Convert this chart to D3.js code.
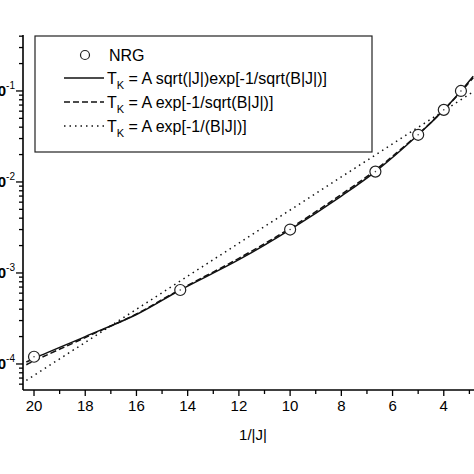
<!DOCTYPE html>
<html><head><meta charset="utf-8">
<script src="https://cdn.jsdelivr.net/npm/d3@7"></script>
<style>body{margin:0;background:#fff}</style></head>
<body><svg id="c" width="474" height="474"></svg>
<script>
const nrgX = [20, 14.29, 10, 6.67, 5, 4, 3.33];
const nrgY = [1.2e-4, 6.5e-4, 3.0e-3, 1.3e-2, 3.3e-2, 6.2e-2, 0.1];
const solidX = [20.3, 20, 18, 16, 14.29, 12, 10, 8, 6.67, 5, 4, 3.33, 2.85];
const solidY = [1.05e-4, 1.15e-4, 2.0e-4, 3.5e-4, 6.5e-4, 1.4e-3, 3.0e-3, 7.0e-3, 1.3e-2, 3.3e-2, 6.2e-2, 0.1, 0.145];
const dashX = [20.3, 20, 18, 16, 14.29, 12, 10, 8, 6.67, 5, 4, 3.33, 2.85];
const dashY = [0.98e-4, 1.08e-4, 1.95e-4, 3.55e-4, 6.6e-4, 1.45e-3, 3.1e-3, 7.3e-3, 1.35e-2, 3.35e-2, 6.2e-2, 0.098, 0.14];
const dotX = [20.3, 2.85];
const dotY = [6.6e-5, 0.098];
const xTicks = [20, 18, 16, 14, 12, 10, 8, 6, 4];
const yTicks = [1e-4, 1e-3, 1e-2, 1e-1];
const yExp = ["-4", "-3", "-2", "-1"];
const legendLabels = ["NRG", "A sqrt(|J|)exp[-1/sqrt(B|J|)]", "A exp[-1/sqrt(B|J|)]", "A exp[-1/(B|J|)]"];

const svg = d3.select("#c");
const L = 23, R = 474, T = 35, B = 390;
const x = d3.scaleLinear().domain([20.43, 2.82]).range([L, R]);
const y = d3.scaleLog().domain([10 ** -4.286, 10 ** -0.385]).range([B, T]);
const font = "Arial, 'Liberation Sans', sans-serif";

svg.append("clipPath").attr("id", "cp").append("rect").attr("x", L).attr("y", T).attr("width", R - L).attr("height", B - T);
const g = svg.append("g").attr("clip-path", "url(#cp)");
function line(xs, ys, dash) {
  const d = d3.line().x(i => x(xs[i])).y(i => y(ys[i])).curve(d3.curveCatmullRom)(d3.range(xs.length).sort((a,b)=>xs[b]-xs[a]));
  g.append("path").attr("d", d).attr("fill", "none").attr("stroke", "#111").attr("stroke-width", 1.5).attr("stroke-dasharray", dash);
}
line(dotX, dotY, "1.5,4");
line(dashX, dashY, "6,3");
line(solidX, solidY, null);
g.selectAll("circle.n").data(nrgX).join("circle").attr("cx", d => x(d)).attr("cy", (d, i) => y(nrgY[i])).attr("r", 5.5).attr("fill", "#fff").attr("stroke", "#222").attr("stroke-width", 1.2);
g.selectAll("circle.c").data(nrgX).join("circle").attr("cx", d => x(d)).attr("cy", (d, i) => y(nrgY[i])).attr("r", 0.8).attr("fill", "#444");

svg.append("line").attr("x1", L).attr("x2", L).attr("y1", T).attr("y2", B).attr("stroke", "#000").attr("stroke-width", 1.6);
svg.append("line").attr("x1", L).attr("x2", R).attr("y1", B).attr("y2", B).attr("stroke", "#000").attr("stroke-width", 1.6);
d3.range(3, 21).forEach(v => {
  if (x(v) < L) return;
  const major = v % 2 === 0;
  svg.append("line").attr("x1", x(v)).attr("x2", x(v)).attr("y1", B).attr("y2", B + (major ? 6 : 4)).attr("stroke", "#000").attr("stroke-width", 1.3);
});
svg.selectAll("text.xt").data(xTicks).join("text").attr("x", d => x(d)).attr("y", B + 21).attr("text-anchor", "middle").attr("font-family", font).attr("font-size", 15).text(d => d);
svg.append("text").attr("x", 253).attr("y", 440).attr("text-anchor", "middle").attr("font-family", font).attr("font-size", 15).text("1/|J|");
[-5, -4, -3, -2, -1].forEach(e => {
  for (let m = 1; m <= 9; m++) {
    const v = m * 10 ** e; const py = y(v);
    if (py < T || py > B) continue;
    svg.append("line").attr("x1", L).attr("x2", L - (m === 1 ? 7 : 4)).attr("y1", py).attr("y2", py).attr("stroke", "#000").attr("stroke-width", 1.3);
  }
});
yTicks.forEach((v, i) => {
  const t = svg.append("text").attr("x", 15).attr("y", y(v) + 5).attr("text-anchor", "end").attr("font-family", font).attr("font-size", 15).attr("font-weight", "bold");
  t.append("tspan").text("10");
  t.append("tspan").attr("font-size", 10).attr("dy", -7).attr("font-weight", "normal").text(yExp[i]);
});

svg.append("rect").attr("x", 35).attr("y", 36).attr("width", 337).attr("height", 116).attr("fill", "#fff").attr("stroke", "#222").attr("stroke-width", 1.2);
const ly = [55, 78, 102, 126];
svg.append("circle").attr("cx", 85).attr("cy", ly[0]).attr("r", 4.5).attr("fill", "#fff").attr("stroke", "#222").attr("stroke-width", 1.2);
[null, "6,3", "1.5,4"].forEach((d, i) => {
  svg.append("line").attr("x1", 64).attr("x2", 104).attr("y1", ly[i + 1]).attr("y2", ly[i + 1]).attr("stroke", "#111").attr("stroke-width", 1.5).attr("stroke-dasharray", d);
});
legendLabels.forEach((s, i) => {
  const t = svg.append("text").attr("x", i === 0 ? 109 : 107).attr("y", ly[i] + 6).attr("font-family", font).attr("font-size", 16);
  if (i === 0) { t.text(s); return; }
  t.append("tspan").text("T");
  t.append("tspan").attr("font-size", 11).attr("dy", 5).text("K");
  t.append("tspan").attr("dy", -5).text(" = " + s);
});
</script></body></html>
